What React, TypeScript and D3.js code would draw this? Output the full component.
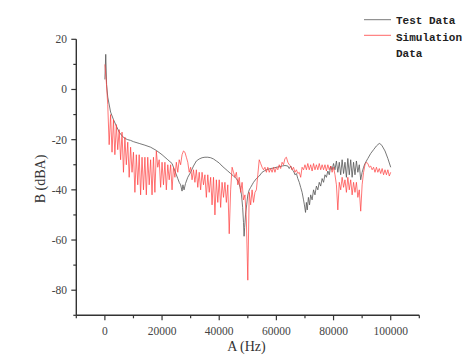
import React from "react";
import * as d3 from "d3";

// Test data (gray): frequency (Hz) and level (dBA)
const testFreq = [0, 300, 600, 1000, 2000, 3000, 4000, 5000, 6000, 7000, 8000, 9000, 10000, 12000, 14000, 16000, 18000, 20000, 22000, 23500, 24500, 25500, 26000, 26500, 27000, 27300, 27700, 28200, 29000, 30000, 31000, 32000, 33000, 34000, 35000, 36000, 37000, 38000, 39000, 40000, 41000, 42000, 43000, 44000, 45000, 46000, 46800, 47300, 47800, 48200, 48500, 48700, 48900, 49200, 49600, 50000, 50500, 51000, 51500, 52000, 53000, 54000, 55000, 56000, 57000, 58000, 59000, 60000, 61000, 62000, 63000, 64000, 64500, 65000, 65500, 66000, 66500, 67000, 67500, 68000, 68500, 69000, 69500, 69800, 70200, 70500, 70800, 71200, 71600, 72000, 72500, 73000, 73500, 74000, 74500, 75000, 75500, 76000, 76500, 77000, 77500, 78000, 78500, 79000, 79500, 80000, 80500, 81000, 81500, 82000, 82500, 83000, 83500, 84000, 84500, 85000, 85500, 86000, 86500, 87000, 87500, 88000, 88500, 89000, 89500, 90000, 90500, 91000, 92000, 93000, 94000, 95000, 96000, 96500, 97000, 98000, 99000, 100000];
const testVal = [4, 14, 2, -3, -9, -12, -14.5, -17, -18.5, -19.5, -20, -20.3, -20.8, -21.5, -22.2, -23, -24.3, -26, -28, -29.5, -32.5, -35.5, -37, -38, -40.5, -38, -40, -37.5, -35, -33, -30.5, -28.5, -27.7, -27.2, -27, -27, -27.2, -27.7, -28.5, -29.3, -30.5, -31.5, -32.5, -33.5, -34.5, -35.5, -37, -39, -42, -47, -53, -58.5, -55, -50, -46, -42, -40, -39, -38, -37, -35.5, -34.5, -33, -32.3, -31.8, -31.5, -31.3, -31, -30.8, -30.5, -30.3, -30.5, -31.5, -30.5, -32, -32.5, -34, -33.5, -35.5, -37, -39, -41, -44, -46, -49, -45, -48, -43, -46, -42, -44, -40, -42, -38.5, -40, -37, -38.5, -35.5, -37, -34, -35, -32.5, -34, -30.5, -32, -29.5, -32, -28.5, -33, -29, -34, -28, -33.5, -29, -35, -27.5, -34, -28, -35, -29, -34, -28.5, -33, -30, -36, -33, -31, -29.5, -27.5, -25.5, -24, -22.5, -21.5, -21.8, -22.5, -24.5, -27.5, -31];

// Simulation data (red): one value every 500 Hz from 0 to 100000 Hz
const simStep = 500;
const simVal = [
  10, 3, -6, -22, -10, -25, -12, -26, -14, -24,
  -16, -28, -17, -33, -19, -30, -21, -35, -23, -33,
  -25, -41, -26, -38, -26, -42, -27, -40, -27, -42,
  -27, -38, -28, -42, -27, -41, -24.5, -31, -28, -39,
  -29, -38, -29, -40, -30, -36, -30, -40, -31, -35,
  -29, -33, -28, -30, -26, -24.5, -25, -27, -29, -33,
  -31, -36, -32, -37, -32, -39, -33, -40, -33, -38,
  -34, -43, -34, -41, -35, -46, -35, -50, -36, -45,
  -36, -47, -37, -43, -37, -45, -38, -57.5, -40, -31,
  -33, -35, -33, -38, -35, -41, -37, -44, -42, -52,
  -76, -41, -46, -40, -45, -41, -40, -34, -28, -29.5,
  -31, -32, -31, -33, -31, -33, -31.5, -33, -31, -33,
  -31, -32, -30, -31.5, -29, -30, -27.5, -27, -29, -30,
  -30.5, -32, -31, -33, -32, -33.5, -33, -35, -31, -32,
  -30, -32, -29.5, -32, -30, -32.5, -29.5, -32, -30, -32,
  -29.5, -32, -30, -32, -30, -32.5, -30, -32, -30.5, -33,
  -31, -34, -38, -48, -37, -40, -35, -39, -36, -41,
  -35, -40, -36, -42, -37, -41, -37, -43, -40, -48.5,
  -38, -33, -30, -29, -29.5, -31, -30.5, -32, -31, -33,
  -31, -33, -31.5, -33.5, -31.5, -34, -32, -34, -32, -34.5,
  -33,
];

const xMajor = [0, 20000, 40000, 60000, 80000, 100000];
const xMinor = [-10000, 10000, 30000, 50000, 70000, 90000, 110000];
const yMajor = [20, 0, -20, -40, -60, -80];
const yMinor = [10, -10, -30, -50, -70, -90];
const seriesNames = ["Test Data", "Simulation", "Data"];

export default function App() {
  const x = d3.scaleLinear().domain([-10000, 110000]).range([76.3, 419.3]);
  const y = d3.scaleLinear().domain([-90, 20]).range([315.3, 39.3]);
  const line = d3
    .line<[number, number]>()
    .x((d) => x(d[0]))
    .y((d) => y(d[1]));
  const testPts: [number, number][] = testFreq.map((f, i) => [f, testVal[i]]);
  const simPts: [number, number][] = simVal.map((v, i) => [i * simStep, v]);
  const axisColor = "#333";
  const tickFont = "'Liberation Serif', serif";
  const grayC = "#555";
  const redC = "#ff4040";
  return (
    <svg
      width={474}
      height={363}
      style={{ position: "absolute", left: 0, top: 0, background: "#fff" }}
    >
      <rect width={474} height={363} fill="#fff" />
      <path d={line(testPts) || ""} fill="none" stroke={grayC} strokeWidth={0.8} />
      <path d={line(simPts) || ""} fill="none" stroke={redC} strokeWidth={0.8} strokeOpacity={0.9} />
      {/* axes */}
      <line x1={x(-10000)} x2={x(110000)} y1={y(-90)} y2={y(-90)} stroke={axisColor} strokeWidth={1.4} />
      <line x1={x(-10000)} x2={x(-10000)} y1={y(-90)} y2={y(20)} stroke={axisColor} strokeWidth={1.4} />
      {xMajor.map((t) => (
        <g key={"xM" + t}>
          <line x1={x(t)} x2={x(t)} y1={y(-90)} y2={y(-90) + 5} stroke={axisColor} strokeWidth={1.2} />
          <text x={x(t)} y={335} textAnchor="middle" fontSize={11.5} fontFamily={tickFont} fill="#444">
            {t}
          </text>
        </g>
      ))}
      {xMinor.map((t) => (
        <line key={"xm" + t} x1={x(t)} x2={x(t)} y1={y(-90)} y2={y(-90) + 3} stroke={axisColor} strokeWidth={1.2} />
      ))}
      {yMajor.map((t) => (
        <g key={"yM" + t}>
          <line x1={x(-10000) - 5} x2={x(-10000)} y1={y(t)} y2={y(t)} stroke={axisColor} strokeWidth={1.2} />
          <text x={67} y={y(t) + 4} textAnchor="end" fontSize={11.5} fontFamily={tickFont} fill="#444">
            {t}
          </text>
        </g>
      ))}
      {yMinor.map((t) => (
        <line key={"ym" + t} x1={x(-10000) - 3} x2={x(-10000)} y1={y(t)} y2={y(t)} stroke={axisColor} strokeWidth={1.2} />
      ))}
      {/* axis titles */}
      <text x={246.5} y={351} textAnchor="middle" fontSize={14} fontFamily={tickFont} fill="#333">
        A (Hz)
      </text>
      <text
        transform="translate(45,179) rotate(-90)"
        textAnchor="middle"
        fontSize={14}
        fontFamily={tickFont}
        fill="#333"
      >
        B (dBA)
      </text>
      {/* legend */}
      <line x1={364} x2={391} y1={19.7} y2={19.7} stroke={grayC} strokeWidth={0.8} />
      <line x1={364} x2={391} y1={35.3} y2={35.3} stroke={redC} strokeWidth={0.8} />
      <g fontFamily="'Liberation Mono', monospace" fontWeight="bold" fontSize={11} fill="#222">
        <text x={396} y={24}>{seriesNames[0]}</text>
        <text x={396} y={40.5}>{seriesNames[1]}</text>
        <text x={396} y={56.5}>{seriesNames[2]}</text>
      </g>
    </svg>
  );
}
